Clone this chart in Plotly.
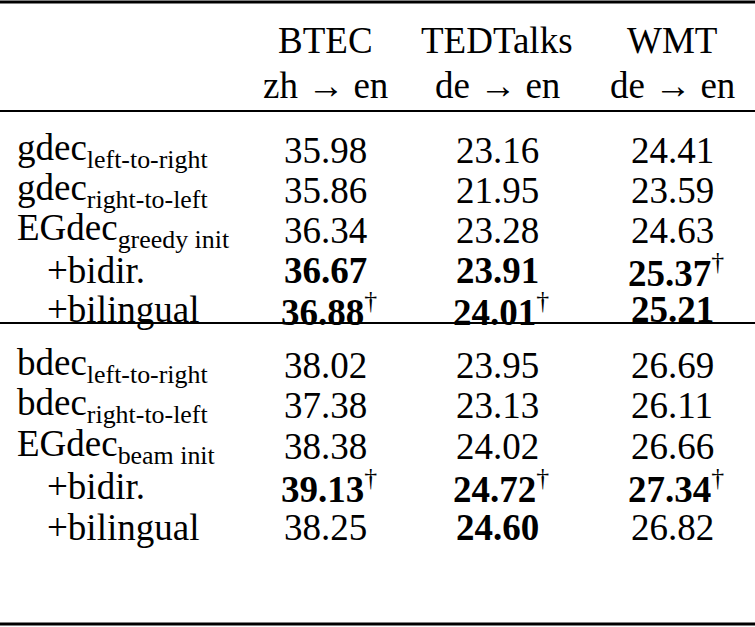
import plotly.graph_objects as go

columns = ["BTEC", "TEDTalks", "WMT"]
directions = ["zh → en", "de → en", "de → en"]
row_labels = [
    "gdec<sub>left-to-right</sub>", "gdec<sub>right-to-left</sub>", "EGdec<sub>greedy init</sub>",
    "+bidir.", "+bilingual",
    "bdec<sub>left-to-right</sub>", "bdec<sub>right-to-left</sub>", "EGdec<sub>beam init</sub>",
    "+bidir.", "+bilingual",
]
indent = [0, 0, 0, 1, 1, 0, 0, 0, 1, 1]
btec = ["35.98", "35.86", "36.34", "36.67", "36.88", "38.02", "37.38", "38.38", "39.13", "38.25"]
ted = ["23.16", "21.95", "23.28", "23.91", "24.01", "23.95", "23.13", "24.02", "24.72", "24.60"]
wmt = ["24.41", "23.59", "24.63", "25.37", "25.21", "26.69", "26.11", "26.66", "27.34", "26.82"]
bold_btec = [0, 0, 0, 1, 1, 0, 0, 0, 1, 0]
bold_ted = [0, 0, 0, 1, 1, 0, 0, 0, 1, 1]
bold_wmt = [0, 0, 0, 1, 1, 0, 0, 0, 1, 0]
dag_btec = [0, 0, 0, 0, 1, 0, 0, 0, 1, 0]
dag_ted = [0, 0, 0, 0, 1, 0, 0, 0, 1, 0]
dag_wmt = [0, 0, 0, 1, 0, 0, 0, 0, 1, 0]

W, H = 755, 627
FONT = "Liberation Serif, Times New Roman, serif"
FS = 37
col_x = [325, 497, 672]
row_y = [150, 190, 230, 270, 309, 365, 405, 446, 486, 527]

fig = go.Figure()
ann = []
for i, c in enumerate(columns):
    ann.append(dict(x=col_x[i], y=40, text=c))
    ann.append(dict(x=col_x[i], y=85, text=directions[i]))
vals = [btec, ted, wmt]
bolds = [bold_btec, bold_ted, bold_wmt]
dags = [dag_btec, dag_ted, dag_wmt]
for r, lab in enumerate(row_labels):
    ann.append(dict(x=15 + 30 * indent[r], y=row_y[r], text=lab, xanchor="left"))
    for c in range(3):
        t = vals[c][r]
        if bolds[c][r]:
            t = "<b>" + t + "</b>"
        if dags[c][r]:
            t = t + "<sup>†</sup>"
            ann.append(dict(x=col_x[c] - 46, y=row_y[r], text=t, xanchor="left"))
        else:
            ann.append(dict(x=col_x[c], y=row_y[r], text=t))
for a in ann:
    a.setdefault("xanchor", "center")
    a.update(xref="x", yref="y", yanchor="middle", showarrow=False,
             font=dict(family=FONT, size=FS, color="black"))

shapes = [
    dict(type="line", x0=0, x1=W, y0=2, y1=2, line=dict(width=3, color="black")),
    dict(type="line", x0=0, x1=W, y0=111, y1=111, line=dict(width=2, color="black")),
    dict(type="line", x0=0, x1=W, y0=323, y1=323, line=dict(width=2, color="black")),
    dict(type="line", x0=0, x1=W, y0=624, y1=624, line=dict(width=3, color="black")),
]
for s in shapes:
    s.update(xref="x", yref="y")

fig.update_layout(width=W, height=H, margin=dict(l=0, r=0, t=0, b=0),
                  plot_bgcolor="white", paper_bgcolor="white",
                  annotations=ann, shapes=shapes, showlegend=False,
                  xaxis=dict(range=[0, W], visible=False, fixedrange=True),
                  yaxis=dict(range=[H, 0], visible=False, fixedrange=True))
fig.write_html("out.html", config={"displayModeBar": False},
               post_script="document.body.style.margin='0';document.body.style.overflow='hidden';")
